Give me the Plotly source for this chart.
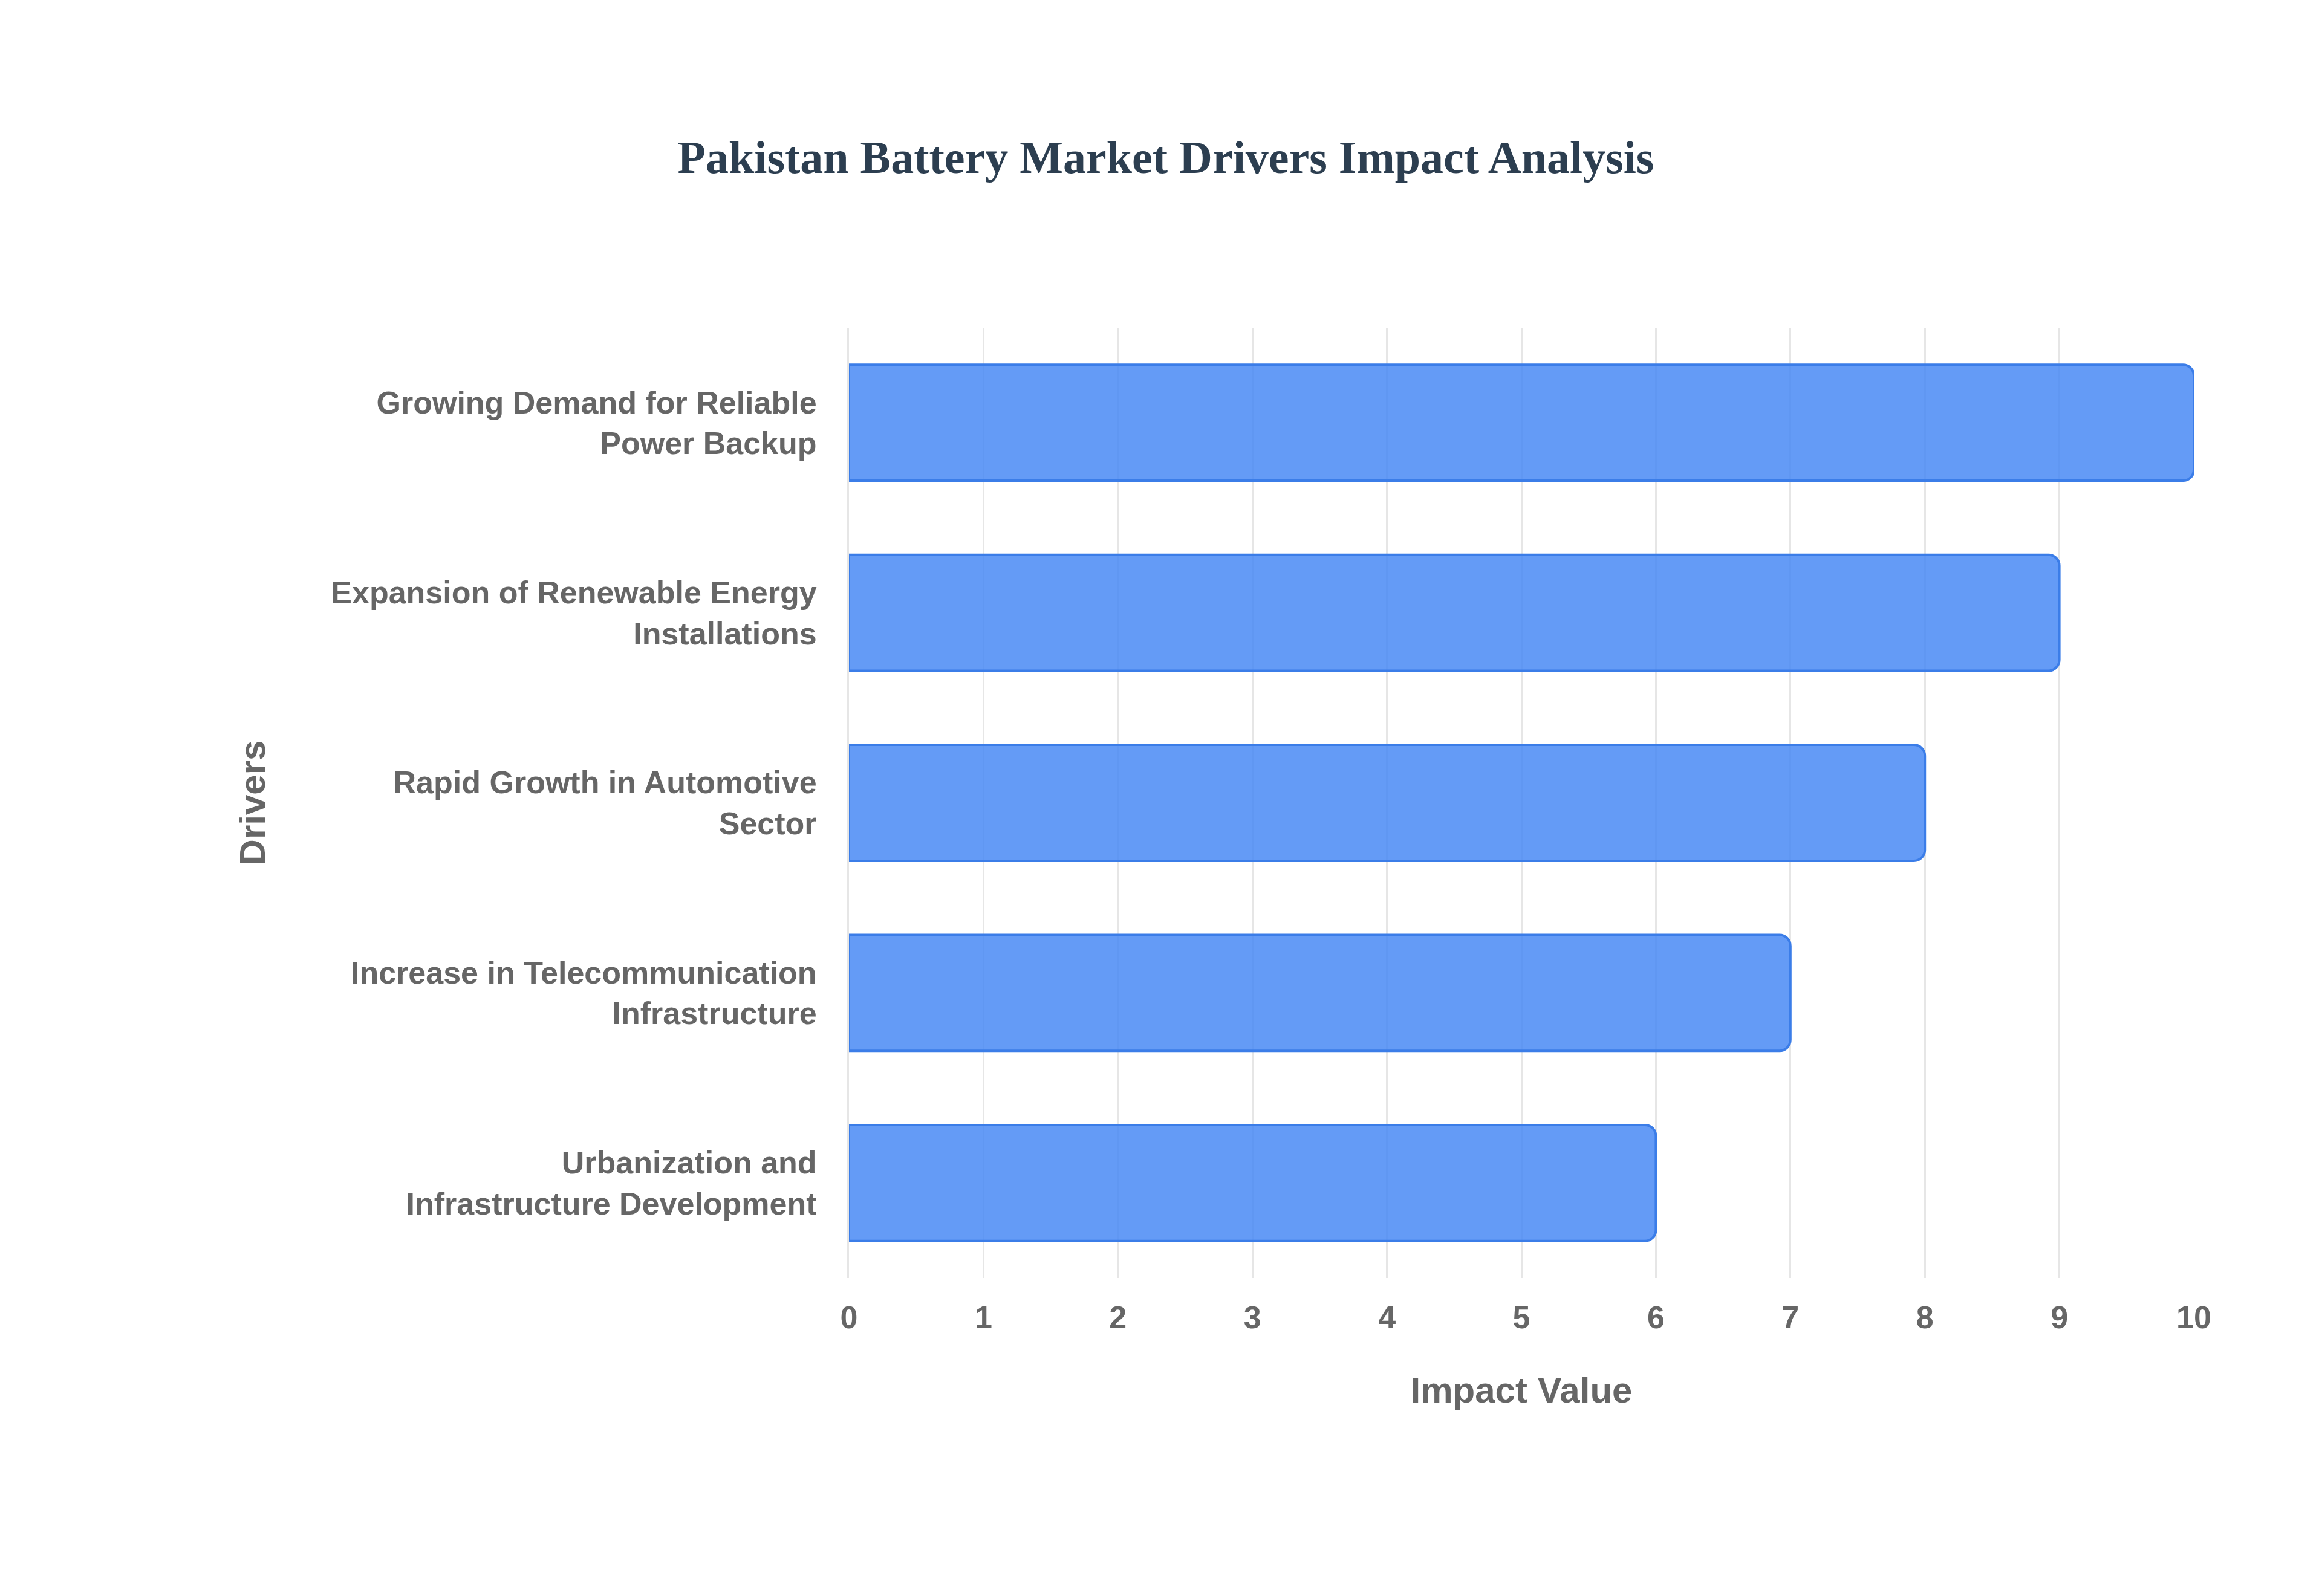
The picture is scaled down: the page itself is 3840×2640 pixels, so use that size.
import plotly.graph_objects as go

drivers = ["Growing Demand for Reliable<br>Power Backup",
           "Expansion of Renewable Energy<br>Installations",
           "Rapid Growth in Automotive<br>Sector",
           "Increase in Telecommunication<br>Infrastructure",
           "Urbanization and<br>Infrastructure Development"]
values = [10, 9, 8, 7, 6]

fig = go.Figure(go.Bar(
    x=values, y=drivers, orientation="h", width=0.61,
    marker=dict(color="rgba(66,133,244,0.82)", line=dict(color="#3b7de8", width=4), cornerradius=18),
))
fig.update_layout(
    width=3840, height=2640, plot_bgcolor="white", paper_bgcolor="white",
    margin=dict(l=1396, r=220, t=534, b=534),
    title=dict(text="<b>Pakistan Battery Market Drivers Impact Analysis</b>", x=0.5, y=0.915,
               xanchor="center", font=dict(family="Liberation Serif", size=76, color="#2c3e50")),
    font=dict(family="Liberation Sans", color="#666666"),
    showlegend=False,
)
fig.update_xaxes(range=[0, 10], dtick=1, showgrid=True, gridcolor="#e6e6e6", gridwidth=3,
                 tickfont=dict(size=52, family="Liberation Sans"), ticks="outside", ticklen=20, tickcolor="white",
                 title=dict(text="<b>Impact Value</b>", font=dict(size=60), standoff=70),
                 tickprefix="<b>", ticksuffix="</b>", zeroline=False, showline=False)
fig.update_yaxes(autorange="reversed", showgrid=False, showline=True, linecolor="#e6e6e6", linewidth=3,
                 tickfont=dict(size=52), ticks="outside", ticklen=40, tickcolor="white",
                 tickprefix="<b>", ticksuffix="</b>",
                 title=dict(text="<b>Drivers</b>", font=dict(size=60), standoff=90))
fig.write_html("out.html")
